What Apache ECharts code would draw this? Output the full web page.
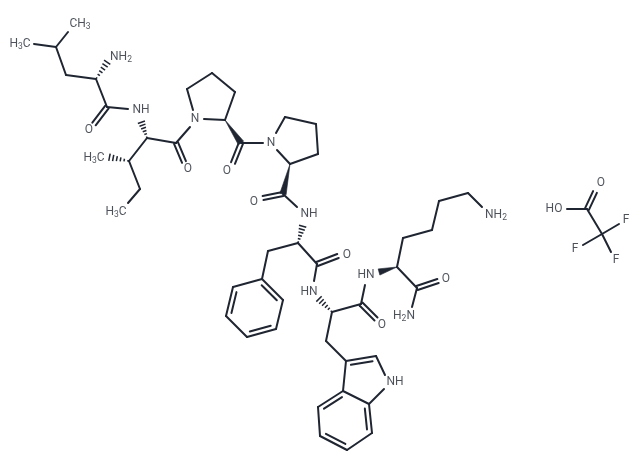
<!DOCTYPE html>
<html><head><meta charset="utf-8">
<script src="https://cdn.jsdelivr.net/npm/echarts@6/dist/echarts.min.js"></script>
<style>html,body{margin:0;padding:0;background:#fff}#c{width:640px;height:470px}</style>
</head><body><div id="c"></div>
<script>
// Molecule drawn on a 640 x 470 value plane; each bond is [x1, y1, x2, y2]
const singleBonds = [
  [68,32,56,47],[34,44,56,47],[56,47,66,75],[66,75,96,79],[96,79,107,107],[107,107,128,109],
  [147,138,176,143],[147,138,129,161],[129,161,140,189],[140,189,128,203],[176,143,190,127],
  [193,110,187,89],[187,89,212,73],[212,73,235,92],[235,92,225,120],[204,119,225,120],
  [241,143,263,143],[276,133,285,117],[285,117,316,124],[316,124,318,154],[318,154,290,164],[277,150,290,164],
  [283,194,297,207],[298,243,317,264],[298,243,268,251],[268,251,262,279],[314,281,317,264],
  [262,279,233,287],[283,300,276,329],[247,337,226,316],
  [332,312,361,304],[332,312,326,341],[326,341,346,361],[365,285,361,304],
  [376,356,385,375],[369,404,384,389],[346,361,343,391],[343,391,369,404],[318,407,320,436],[347,450,372,433],
  [397,267,417,288],[417,288,412,307],[397,267,403,238],[403,238,432,230],[432,230,439,201],[439,201,468,193],[468,193,482,207],
  [567,209,587,209],[587,209,602,234],[602,234,619,224],[602,234,583,245],[602,234,611,252]
];
const carbonylBonds = [
  [107,107,94,124],[176,143,184,162],[241,143,233,163],[283,194,263,198],
  [317,264,338,256],[361,304,376,319],[417,288,438,281],[587,209,595,192]
];
const ringDoubleBonds = [
  [262,279,283,300],[276,329,247,337],[226,316,233,287],
  [346,361,376,356],[318,407,343,391],[347,450,320,436],[369,404,372,433]
];
const wedgeBonds = [[225,120,241,143],[290,164,283,194],[397,267,379,272]];
const hashBonds = [[96,79,108,61],[147,138,141,121],[129,161,108,157],[298,243,303,225],[332,312,318,298]];

const labelTexts = [
  '{b|CH}{s|3}','{b|H}{s|3}{b|C}','{b|NH}{s|2}','{b|O}','{b|NH}','{b|N}','{b|H}{s|3}{b|C}','{b|O}','{b|H}{s|3}{b|C}',
  '{b|O}','{b|N}','{b|O}','{b|NH}','{b|O}','{b|HN}','{b|O}','{b|HN}','{b|O}','{b|NH}','{b|H}{s|2}{b|N}','{b|NH}{s|2}',
  '{b|O}','{b|HO}','{b|F}','{b|F}','{b|F}'
];
const labelX = [80,20,121,89,141,195,94,188,116, 227,271,254,309,347,309,382,366,446,395,404,496, 601,554,626,575,616];
const labelY = [24,44,57,130,110,119,158,169,212, 171,143,202,214,255,292,325,275,279,382,316,215, 183,209,220,249,260];

const INK = '#1f2531';
const LINE = 2;
function ln(a,b,c,d,w){return {type:'line',shape:{x1:a[0]+(c||0),y1:a[1]+(d||0),x2:b[0]+(c||0),y2:b[1]+(d||0)},style:{stroke:INK,lineWidth:w||LINE,lineCap:'round'}};}
function render(params, api){
  const kind = api.value(4);
  const a = api.coord([api.value(0),api.value(1)]);
  const b = api.coord([api.value(2),api.value(3)]);
  const dx=b[0]-a[0], dy=b[1]-a[1], L=Math.hypot(dx,dy), nx=-dy/L, ny=dx/L;
  const kids=[];
  if(kind===0){kids.push(ln(a,b));}
  else if(kind===1){const o=2.1;kids.push(ln(a,b,nx*o,ny*o),ln(a,b,-nx*o,-ny*o));}
  else if(kind===2){
    kids.push(ln(a,b));
    const t=0.14,o=4.6;
    kids.push(ln([a[0]+dx*t,a[1]+dy*t],[b[0]-dx*t,b[1]-dy*t],nx*o,ny*o));
  }
  else if(kind===3){
    const w=3.2;
    kids.push({type:'polygon',shape:{points:[a,[b[0]+nx*w,b[1]+ny*w],[b[0]-nx*w,b[1]-ny*w]]},style:{fill:INK,stroke:INK,lineWidth:.6}});
  }
  else{
    const n=6;
    for(let i=0;i<n;i++){
      const t=(i+0.3)/(n-0.3), w=0.6+t*3.4;
      const p=[a[0]+dx*t,a[1]+dy*t];
      kids.push({type:'line',shape:{x1:p[0]+nx*w,y1:p[1]+ny*w,x2:p[0]-nx*w,y2:p[1]-ny*w},style:{stroke:INK,lineWidth:1.5}});
    }
  }
  return {type:'group',children:kids};
}
const bondRows = [];
[singleBonds,carbonylBonds,ringDoubleBonds,wedgeBonds,hashBonds].forEach((list,k)=>list.forEach(r=>bondRows.push([r[0],r[1],r[2],r[3],k])));
const chart = echarts.init(document.getElementById('c'),null,{renderer:'canvas'});
const FONT='Roboto';
chart.setOption({
  backgroundColor:'#fff',animation:false,
  grid:{left:0,right:0,top:0,bottom:0},
  xAxis:{type:'value',min:0,max:640,show:false},
  yAxis:{type:'value',min:0,max:470,inverse:true,show:false},
  tooltip:{show:false},
  series:[
    {type:'custom',renderItem:render,data:bondRows,coordinateSystem:'cartesian2d',encode:{x:[0,2],y:[1,3]},silent:true,clip:false},
    {type:'scatter',symbolSize:0,silent:true,data:labelTexts.map((t,i)=>({value:[labelX[i],labelY[i]],t})),
     label:{show:true,position:'inside',align:'center',verticalAlign:'middle',formatter:p=>p.data.t,
       rich:{b:{fontFamily:FONT,fontSize:12,color:INK,lineHeight:14},
             s:{fontFamily:FONT,fontSize:8.5,color:INK,verticalAlign:'bottom',padding:[6,0,0,0],lineHeight:14}}}}
  ]
});
</script></body></html>
